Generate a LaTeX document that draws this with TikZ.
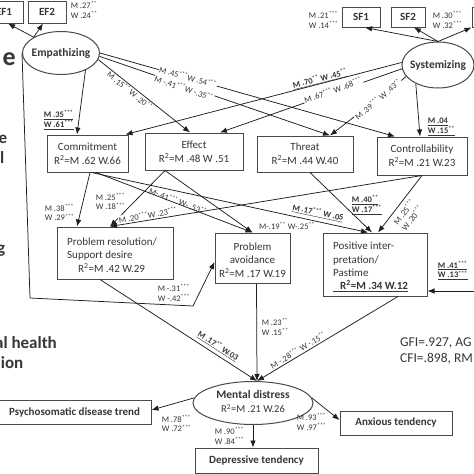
\documentclass[tikz,border=0pt]{standalone}
\usepackage{fontspec}
\setmainfont{Carlito}
\usetikzlibrary{arrows.meta,shapes.geometric,calc}
\definecolor{txt}{HTML}{363636}
\definecolor{brd}{HTML}{4A4A4A}
\definecolor{ln}{HTML}{1E1E1E}
\newcommand\st[1]{\textsuperscript{#1}}
\newcommand\ub[1]{\underline{\textbf{#1}}}
\begin{document}
\begin{tikzpicture}[x=1pt,y=-1pt,
  box/.style={draw=brd, line width=1pt, fill=white, inner sep=0pt, text=txt, align=center,
    font=\fontsize{11}{14}\selectfont},
  ell/.style={ellipse, draw=brd, line width=1pt, fill=white, inner sep=0pt},
  btxt/.style={text=txt, inner sep=0pt, align=center, font=\fontsize{11}{13.3}\selectfont},
  lab/.style={text=txt, inner sep=0.6pt, align=left, font=\fontsize{8.5}{9.8}\selectfont},
  big/.style={text=txt, inner sep=0pt, anchor=base east, font=\fontsize{17}{20}\selectfont\bfseries},
  conn/.style={draw=ln, line width=0.75pt, -{Latex[length=7pt,width=5.5pt]}},
  plain/.style={draw=ln, line width=0.75pt}]
\fill[white] (0,0) rectangle (474,474);
\useasboundingbox (0,0) rectangle (474,474);

% left cut-off heading texts
\node[big, font=\fontsize{26}{28}\selectfont\bfseries] (h1) at (16,65) {e};
\node[big] (h2) at (7.5,143) {e};
\node[big] (h3) at (4.5,163) {l};
\node[big] (h4) at (5.5,253) {g};
\node[big] (h5) at (57,348) {al health};
\node[big] (h6) at (23.5,368) {ion};

% factor boxes
\node[box, font=\fontsize{11}{13}\selectfont\bfseries, minimum width=38, minimum height=22] (ef1) at (4,12) {EF1};
\node[box, font=\fontsize{11}{13}\selectfont\bfseries, minimum width=38, minimum height=22] (ef2) at (47,12) {EF2};
\node[box, font=\fontsize{11}{13}\selectfont\bfseries, minimum width=38, minimum height=20] (sf1) at (361,17) {SF1};
\node[box, font=\fontsize{11}{13}\selectfont\bfseries, minimum width=34, minimum height=20] (sf2) at (408,17) {SF2};
\node[box, minimum width=38, minimum height=20] (sf3) at (491,17) {};

% ellipses
\node[ell, minimum width=77, minimum height=43] (emp) at (61,53) {};
\node[btxt, font=\fontsize{11.5}{13}\selectfont\bfseries] (empt) at (emp) {Empathizing};
\node[ell, minimum width=72, minimum height=46] (sys) at (438,65) {};
\node[btxt, font=\fontsize{11.5}{13}\selectfont\bfseries] (syst) at (sys) {Systemizing};
\node[ell, minimum width=120, minimum height=43] (mental) at (253,403) {};
\node[btxt, font=\fontsize{10.5}{14}\selectfont] (mentalt) at (253,402) {{\fontsize{11.5}{13}\selectfont\bfseries Mental distress}\\R\st{2}=M .21 W.26};

% appraisal boxes
\node[box, minimum width=81, minimum height=37] (commit) at (87.5,153.5) {Commitment\\R\st{2}=M .62 W.66};
\node[box, minimum width=98, minimum height=37] (effect) at (194,151.5) {Effect\\R\st{2}=M .48 W .51};
\node[box, minimum width=96, minimum height=36] (threat) at (305,154) {Threat\\R\st{2}=M .44 W.40};
\node[box, minimum width=90, minimum height=38] (control) at (422,156) {Controllability\\R\st{2}=M .21 W.23};

% coping boxes
\node[box, minimum width=116, minimum height=52] (probres) at (115,253) {};
\node[btxt, anchor=west, align=left] (probrest) at (67,255) {Problem resolution/\\Support desire\\\hspace*{11pt}R\st{2}=M .42 W.29};
\node[box, minimum width=75, minimum height=50] (probavoid) at (252.5,258) {};
\node[btxt] (probavoidt) at (252.5,260) {Problem\\avoidance\\R\st{2}=M .17 W.19};
\node[box, minimum width=104, minimum height=63] (positive) at (375,264.5) {};
\node[btxt, anchor=west, align=left] (positivet) at (333,267) {Positive inter-\\pretation/\\Pastime\\\underline{\hspace*{7pt}\textbf{R\st{2}=M .34 W.12}}};

% outcome boxes
\node[box, font=\fontsize{11}{13}\selectfont\bfseries, minimum width=153, minimum height=24] (psycho) at (74.5,412) {Psychosomatic disease trend};
\node[box, font=\fontsize{11}{13}\selectfont\bfseries, minimum width=123, minimum height=25] (depress) at (256.5,460.5) {Depressive tendency};
\node[box, font=\fontsize{11}{13}\selectfont\bfseries, minimum width=112, minimum height=24] (anxious) at (396,423) {Anxious tendency};

% fit indices
\node[text=txt, inner sep=0pt, anchor=base west, font=\fontsize{13.5}{15}\selectfont] (gfi) at (400,346.5) {GFI=.927, AG};
\node[text=txt, inner sep=0pt, anchor=base west, font=\fontsize{13.5}{15}\selectfont] (cfi) at (400,362.5) {CFI=.898, RM};

% measurement arrows
\draw[conn] (emp.150) -- ($(ef1.south)+(4,0)$);
\draw[conn] (emp.150) -- ($(ef2.south)+(-4,0)$);
\draw[conn] (sys.north) -- ($(sf1.south)+(4,0)$);
\draw[conn] (sys.north) -- ($(sf2.south)+(6,0)$);
\draw[conn] (sys.north) -- (sf3.south west);

% trait -> appraisal
\draw[conn] (emp.-35) -- ($(commit.north)+(-10.5,0)$);
\draw[conn] (emp.-10) -- ($(effect.north)+(-4,0)$);
\draw[conn] (emp.-5) -- ($(threat.north)+(25,0)$);
\draw[conn] (emp.east) -- ($(control.north)+(-27,0)$);
\draw[conn] (sys.176) -- ($(commit.north east)+(-3,0)$);
\draw[conn] (sys.186) -- ($(effect.north)+(26,0)$);
\draw[conn] (sys.200) -- ($(threat.north)+(25,0)$);
\draw[conn] (sys.-140) -- ($(control.north)+(-2,0)$);

% appraisal -> coping
\draw[conn] ($(commit.south)+(2.5,0)$) -- ($(probres.north)+(-38,0)$);
\draw[conn] ($(effect.south)+(-29,0)$) -- ($(probres.north)+(-5,0)$);
\draw[conn] (control.south) -- ($(probres.north)+(-5,0)$);
\draw[conn] ($(commit.south)+(8.5,0)$) -- (probavoid.north);
\draw[conn] ($(effect.south)+(-29,0)$) -- (probavoid.north);
\draw[conn] ($(commit.south)+(4,0)$) -- ($(positive.north)+(-7,0)$);
\draw[conn] ($(threat.south)+(5,0)$) -- ($(positive.north)+(-3,0)$);
\draw[conn] (control.south) -- ($(positive.north)+(3,0)$);
\coordinate (c1) at (30,298);
\coordinate (c2) at (193,306);
\draw[conn] (emp.west) -- (c1) -- (c2) -- ($(probavoid.west)+(0,4)$);
\coordinate (rin) at (485,291);
\draw[conn] (rin) -- (positive.east |- rin);

% coping -> mental distress
\draw[conn] ($(probres.south)+(-15,0)$) -- ($(mental.north)+(4,0)$);
\draw[conn] ($(probavoid.south)+(4,0)$) -- ($(mental.north)+(4,0)$);
\draw[conn] ($(positive.south)+(23,0)$) -- ($(mental.north)+(4,0)$);

% mental distress -> indicators
\draw[conn] (mental.175) -- ($(psycho.east)+(0,-2)$);
\draw[conn] (mental.south) -- (mental.south |- depress.north);
\draw[conn] (mental.5) -- ($(anxious.west)+(0,-3)$);

% labels
\node[lab, anchor=west] (l01) at (70,10) {M .27\st{**}\\W .24\st{**}};
\node[lab, anchor=west] (l02) at (308,20) {M .21\st{***}\\W .14\st{***}};
\node[lab, anchor=west] (l03) at (432,20) {M .30\st{***}\\W .32\st{***}};
\node[lab, anchor=west] (l04) at (43,120) {\ub{M .35\st{***}}\\\ub{W .61\st{***}}};
\node[lab, rotate=-39] (l05) at (130,90.5) {M .15\st{**} W .20\st{**}};
\node[lab, fill=white, rotate=-16] (l06) at (188,77) {M .45\st{***}W .54\st{***}};
\node[lab, fill=white, rotate=-19] (l07) at (184,88) {M -.41\st{***}W -.35\st{**}};
\node[lab, rotate=14] (l08) at (320,79) {\ub{M .70\st{**} W .45\st{**}}};
\node[lab, fill=white, rotate=20] (l09) at (333,90) {M .67\st{***} W .68\st{***}};
\node[lab, fill=white, rotate=40] (l10) at (378,99) {M .39\st{***} W .43\st{**}};
\node[lab, anchor=west] (l11) at (427,127) {\ub{M .04}\\\ub{W .15\st{**}}};
\node[lab, anchor=west] (l12) at (44,212.5) {M .38\st{***}\\W .29\st{***}};
\node[lab, anchor=west] (l13) at (95,201.5) {M .25\st{***}\\W .18\st{***}};
\node[lab, rotate=-21] (l14) at (178,201) {M-.41\st{***} W- .53\st{**}};
\node[lab, fill=white, rotate=9.5] (l15) at (148,215) {M .20\st{***}W .23\st{***}};
\node[lab] (l16) at (287,226) {M-.19\st{**} W-.25\st{**}};
\node[lab, rotate=-12] (l17) at (318,213) {\ub{M .17\st{***} W .05}};
\node[lab, anchor=west] (l18) at (351,205) {\ub{M .40\st{**}}\\\ub{W .17\st{***}}};
\node[lab, rotate=53] (l19) at (408,215) {M .25\st{***}\\W .20\st{***}};
\node[lab, anchor=west] (l20) at (437,270.5) {\ub{M .41\st{***}}\\\ub{W .13\st{***}}};
\node[lab, anchor=west] (l21) at (157,293) {M -.31\st{***}\\W -.42\st{***}};
\node[lab, rotate=-33] (l22) at (218,346) {\ub{M .17\st{**} W.03}};
\node[lab, anchor=west] (l23) at (261,327) {M .23\st{**}\\W .15\st{**}};
\node[lab, rotate=31] (l24) at (298,350) {M -.28\st{***} W -.15\st{**}};
\node[lab, anchor=west] (l25) at (161,423.5) {M .78\st{***}\\W .72\st{***}};
\node[lab, anchor=west] (l26) at (214,436) {M .90\st{***}\\W .84\st{***}};
\node[lab, anchor=west] (l27) at (296,422) {M .93\st{***}\\W .97\st{***}};
\end{tikzpicture}
\end{document}
